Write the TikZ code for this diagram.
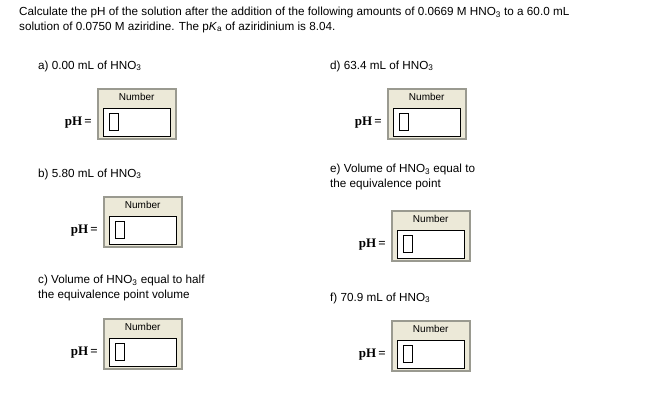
\documentclass[tikz,border=0pt]{standalone}
\usepackage{fontspec}
\setmainfont{Liberation Sans}
\newfontfamily\serifb{Liberation Serif}
\definecolor{beige}{HTML}{ECE9D8}
\definecolor{bord}{HTML}{9A9A90}
\newcommand{\subt}{\textsubscript{3}}
\tikzset{
 txt/.style={anchor=west,inner sep=0pt,font=\fontsize{11.7}{14.5}\selectfont,align=left},
 outerbox/.style={draw=bord,fill=beige,line width=1.5pt,minimum width=78pt,minimum height=50pt,anchor=north west,inner sep=0pt},
 innerbox/.style={draw=black,fill=white,line width=0.8pt,minimum width=67pt,minimum height=28pt,anchor=north west,inner sep=0pt},
 cursor/.style={draw=black,line width=0.6pt,minimum width=9pt,minimum height=17pt,anchor=north west,inner sep=0pt},
 phlab/.style={anchor=east,inner sep=0pt,font=\serifb\bfseries\fontsize{13}{15}\selectfont},
 numlab/.style={anchor=north,inner sep=0pt,font=\fontsize{10}{12}\selectfont}
}
\newcommand{\answerbox}[3]{% name, x, y (top-left of outer)
 \node[outerbox] (#1o) at (#2,#3) {};
 \node[numlab] (#1n) at ([yshift=-5pt]#1o.north) {Number};
 \node[innerbox] (#1i) at (#2+6,#3+20) {};
 \node[cursor] (#1c) at (#2+12,#3+25) {};
 \node[phlab] (#1p) at ([xshift=-11pt]#1i.west) {pH\,=};
}
\begin{document}
\begin{tikzpicture}[x=1pt,y=-1pt]
\useasboundingbox (0,0) rectangle (645,410);
\node[txt,anchor=north west] (q) at (19,7) {Calculate the pH of the solution after the addition of the following amounts of 0.0669 M HNO\subt{} to a 60.0 mL\\solution of 0.0750 M aziridine. The p\textit{K}\textsubscript{a} of aziridinium is 8.04.};
\node[txt] (la) at (38,66) {a) 0.00 mL of HNO\subt};
\node[txt] (ld) at (330,66) {d) 63.4 mL of HNO\subt};
\node[txt] (lb) at (38,174) {b) 5.80 mL of HNO\subt};
\node[txt,anchor=north west] (le) at (330,164) {e) Volume of HNO\subt{} equal to\\the equivalence point};
\node[txt,anchor=north west] (lc) at (38,275) {c) Volume of HNO\subt{} equal to half\\the equivalence point volume};
\node[txt] (lf) at (330,298) {f) 70.9 mL of HNO\subt};
\answerbox{a}{97}{88}
\answerbox{d}{387}{88}
\answerbox{b}{103}{196}
\answerbox{e}{391}{210}
\answerbox{c}{103}{318}
\answerbox{f}{391}{320}
\end{tikzpicture}
\end{document}
